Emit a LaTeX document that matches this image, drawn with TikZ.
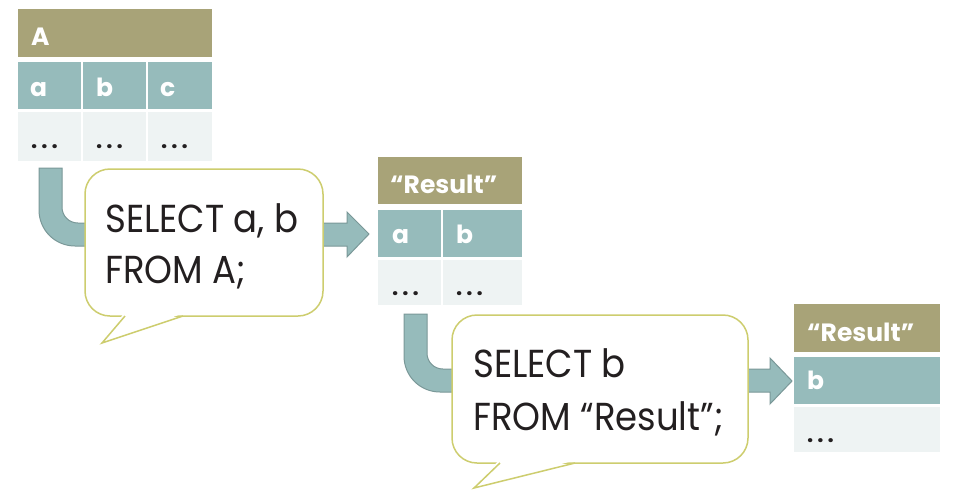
\documentclass[tikz,border=0pt]{standalone}
\usepackage{fontspec}
\setmainfont{Poppins}
\newfontfamily\sqlfont[FakeStretch=0.91]{Poppins}
\definecolor{hdr}{HTML}{A8A378}
\definecolor{colrow}{HTML}{96BBBB}
\definecolor{datarow}{HTML}{EEF3F3}
\definecolor{arrowfill}{HTML}{96BBBB}
\definecolor{arrowline}{HTML}{7A9898}
\definecolor{bubbleline}{HTML}{CDCD6E}
\definecolor{ink}{HTML}{231F20}
\begin{document}
\begin{tikzpicture}[x=1pt,y=-1pt,
  cell/.style={inner sep=0pt, outer sep=0pt, anchor=north west},
  hdrcell/.style={cell, fill=hdr},
  colcell/.style={cell, fill=colrow},
  datacell/.style={cell, fill=datarow},
  hdrtext/.style={anchor=base west, inner sep=0pt, text=white, font=\fontsize{25}{25}\selectfont\bfseries},
  coltext/.style={anchor=base west, inner sep=0pt, text=white, font=\fontsize{25}{25}\selectfont\bfseries},
  dots/.style={anchor=base west, inner sep=0pt, text=ink, font=\fontsize{22}{22}\selectfont\bfseries},
  bubble/.style={cell, draw=bubbleline, fill=white, line width=1.5pt, rounded corners=25pt},
  sqltext/.style={anchor=base west, inner sep=0pt, text=ink, font=\sqlfont\fontsize{39}{39}\selectfont},
  flow/.style={fill=arrowfill, draw=arrowline, line width=1pt, line join=miter}
]
\useasboundingbox[fill=white] (0,0) rectangle (956,496);

% ---------- curved arrows ----------
\path[flow] (39,168) -- (62,168) -- (62,207)
  .. controls (62,216) and (69,223) .. (78,223)
  -- (347,223) -- (347,212) -- (369,234) -- (347,257) -- (347,246)
  -- (75,246) .. controls (55,246) and (39,230) .. (39,210) -- cycle;

\path[flow] (404,314) -- (427,314) -- (427,353)
  .. controls (427,362) and (434,369) .. (443,369)
  -- (770,369) -- (770,358) -- (792,381) -- (770,404) -- (770,392)
  -- (440,392) .. controls (420,392) and (404,376) .. (404,356) -- cycle;

% ---------- table A ----------
\node[hdrcell, minimum width=194pt, minimum height=48pt] (Ah) at (18,9) {};
\node[colcell, minimum width=63pt, minimum height=47pt] (Aa) at (18,62) {};
\node[colcell, minimum width=63pt, minimum height=47pt] (Ab) at (83,62) {};
\node[colcell, minimum width=64pt, minimum height=47pt] (Ac) at (148,62) {};
\node[datacell, minimum width=63pt, minimum height=49pt] (Ad1) at (18,112) {};
\node[datacell, minimum width=63pt, minimum height=49pt] (Ad2) at (83,112) {};
\node[datacell, minimum width=64pt, minimum height=49pt] (Ad3) at (148,112) {};
\node[hdrtext] (tA) at (31,45) {A};
\node[coltext] (ta) at (30,96) {a};
\node[coltext] (tb) at (96,96) {b};
\node[coltext] (tc) at (160,96) {c};
\node[dots] (td1) at (31,148) {.\kern4pt.\kern4pt.};
\node[dots] (td2) at (96,148) {.\kern4pt.\kern4pt.};
\node[dots] (td3) at (161,148) {.\kern4pt.\kern4pt.};

% ---------- table Result 1 ----------
\node[hdrcell, minimum width=144pt, minimum height=47pt] (Rh) at (378,157) {};
\node[colcell, minimum width=63pt, minimum height=47pt] (Ra) at (378,210) {};
\node[colcell, minimum width=79pt, minimum height=47pt] (Rb) at (443,210) {};
\node[datacell, minimum width=63pt, minimum height=45pt] (Rd1) at (378,260) {};
\node[datacell, minimum width=79pt, minimum height=45pt] (Rd2) at (443,260) {};
\node[hdrtext] (tR) at (390,193) {“Result”};
\node[coltext] (tRa) at (392,243) {a};
\node[coltext] (tRb) at (456,243) {b};
\node[dots] (tRd1) at (392,295) {.\kern4pt.\kern4pt.};
\node[dots] (tRd2) at (456,295) {.\kern4pt.\kern4pt.};

% ---------- table Result 2 ----------
\node[hdrcell, minimum width=146pt, minimum height=48pt] (Sh) at (794,304) {};
\node[colcell, minimum width=146pt, minimum height=47pt] (Sb) at (794,357) {};
\node[datacell, minimum width=146pt, minimum height=45pt] (Sd) at (794,407) {};
\node[hdrtext] (tS) at (807,341) {“Result”};
\node[coltext] (tSb) at (807,389) {b};
\node[dots] (tSd) at (807,442) {.\kern4pt.\kern4pt.};

% ---------- speech bubble 1 ----------
\node[bubble, minimum width=238pt, minimum height=147pt] (q1) at (85,169) {};
\path[fill=white] (124,313) -- (102,343) -- (184,313) -- cycle;
\draw[bubbleline, line width=1.5pt, line join=miter] (125,316) -- (102,343) -- (183,316);
\node[sqltext] (q1a) at (105,232) {SELECT a, b};
\node[sqltext] (q1b) at (105,283) {FROM A;};

% ---------- speech bubble 2 ----------
\node[bubble, minimum width=296pt, minimum height=148pt] (q2) at (452,315) {};
\path[fill=white] (499,460) -- (474,488) -- (576,460) -- cycle;
\draw[bubbleline, line width=1.5pt, line join=miter] (500,463) -- (474,488) -- (575,463);
\node[sqltext] (q2a) at (473,377) {SELECT b};
\node[sqltext] (q2b) at (473,430) {FROM “Result”;};
\end{tikzpicture}
\end{document}
